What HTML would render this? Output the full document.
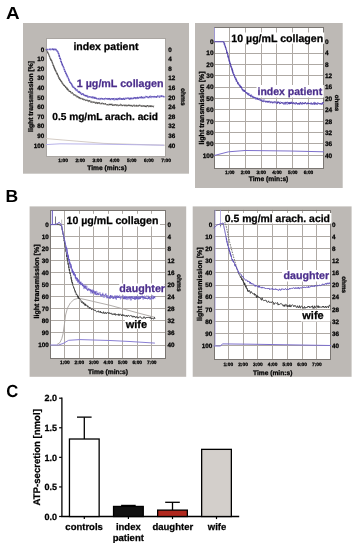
<!DOCTYPE html>
<html><head><meta charset="utf-8"><title>Figure</title>
<style>
html,body{margin:0;padding:0;background:#fff;}
body{width:357px;height:550px;overflow:hidden;}
svg{display:block;font-family:'Liberation Sans', Arial, sans-serif;text-rendering:geometricPrecision;}
</style></head><body>
<svg width="357" height="550" viewBox="0 0 357 550">
<rect x="0" y="0" width="357" height="550" fill="#fff"/>
<rect x="23" y="23" width="166" height="150.7" fill="#bdb9b5"/>
<rect x="46" y="38" width="120" height="119" fill="#fff"/>
<rect x="46.5" y="38.5" width="119" height="118" fill="none" stroke="#aaa6a2" stroke-width="1"/>
<polyline points="46,138.6 104,143.4 150,144.8 165,145.2" fill="none" stroke="#cfc6be" stroke-width="0.9" stroke-opacity="1" stroke-linejoin="round"/>
<polyline points="46,144.6 60,143.8 104,144.2 164,145.2" fill="none" stroke="#b0aae6" stroke-width="0.9" stroke-opacity="1" stroke-linejoin="round"/>
<polyline points="46,49.4 46.25,49.85 46.5,50.3 46.75,50.75 47,51.24 47.25,51.52 47.5,51.66 47.75,52.56 48,52.54 48.21,53.41 48.42,53.53 48.63,54.02 48.84,54.84 49.06,55.72 49.27,55.49 49.48,56.07 49.69,56.95 49.9,57.75 50.11,57.85 50.32,58.15 50.53,59.21 50.74,58.76 50.96,60.05 51.17,59.96 51.38,60.29 51.59,60.74 51.8,61.41 51.99,62.38 52.19,62.22 52.38,63.09 52.58,63.61 52.77,63.81 52.97,64.46 53.16,64.44 53.36,64.91 53.55,65.52 53.75,66.46 53.94,66.68 54.14,67.04 54.33,67.78 54.53,68.11 54.72,68.43 54.92,69.39 55.11,69.76 55.31,69.78 55.5,70.57 55.73,71 55.96,71.82 56.18,72.15 56.41,72.18 56.64,73.34 56.87,72.95 57.09,73.72 57.32,74.53 57.55,74.4 57.78,75.21 58.01,75.23 58.23,76.33 58.46,76.9 58.69,77.18 58.92,77.96 59.14,77.87 59.37,78.72 59.6,79.09 59.89,79.51 60.19,79.82 60.48,80.64 60.77,81.18 61.07,81.14 61.36,81.76 61.65,81.59 61.95,82.67 62.24,83.05 62.53,83.83 62.83,84.09 63.12,83.98 63.41,84.52 63.71,85.24 64,85.02 64.36,85.83 64.72,85.9 65.08,86.22 65.44,86.53 65.8,87.6 66.16,87.33 66.52,87.81 66.88,88.32 67.24,89.17 67.6,88.75 67.96,89.48 68.32,89.95 68.68,90.65 69.04,90.95 69.4,91.36 69.82,91.12 70.24,91.61 70.65,91.9 71.07,92.77 71.49,93.19 71.91,92.72 72.33,93.09 72.75,93.5 73.16,93.84 73.58,94.44 74,94.89 74.43,94.81 74.87,94.8 75.3,95.47 75.73,95.67 76.17,96.12 76.6,96.75 77.03,96.74 77.47,96.82 77.9,97.17 78.33,97.48 78.77,97.1 79.2,98.2 79.69,98.27 80.17,98.56 80.66,98.68 81.14,98.46 81.63,98.66 82.11,98.56 82.6,99.28 83.09,98.91 83.57,99.1 84.06,99.44 84.54,99.58 85.03,99.95 85.51,99.86 86,100 86.49,100.27 86.99,100.35 87.48,100.73 87.98,100.51 88.47,101.49 88.97,101.35 89.46,101 89.96,101.23 90.45,101.45 90.94,101.59 91.44,101.47 91.93,102.32 92.43,102.58 92.92,102.18 93.42,102.32 93.91,102.04 94.41,102.18 94.9,102.54 95.4,102.53 95.91,103.16 96.41,102.56 96.91,102.49 97.42,103.48 97.92,103.13 98.42,102.81 98.93,103.28 99.43,102.83 99.93,103.39 100.44,103.91 100.94,103.86 101.44,103.76 101.95,103.39 102.45,103.57 102.95,103.43 103.46,104.11 103.96,103.93 104.46,104.25 104.97,103.86 105.47,103.82 105.97,104.48 106.48,104.72 106.98,104.65 107.48,104.67 107.99,104.75 108.49,104.74 108.99,104.29 109.5,104.65 110,104.56 110.5,104.25 111,104.27 111.5,104.54 112,104.54 112.5,104.99 113,105.28 113.5,104.79 114,105.3 114.5,105.37 115,105.36 115.5,104.78 116,104.66 116.5,104.69 117,104.68 117.5,104.7 118,105.14 118.5,105.44 119,105.4 119.5,105.06 120,105.25 120.5,105.42 121,104.72 121.5,105.32 122,105.59 122.5,105.48 123,105.47 123.5,105.22 124,104.94 124.5,105.57 125,105.13 125.5,105.62 126,105.81 126.5,105.26 127,105.28 127.5,105.85 128,105.64 128.5,105.11 129,105.09 129.5,105.13 130,105.9 130.51,105.82 131.02,105.18 131.53,105.88 132.03,106.05 132.54,105.74 133.05,105.45 133.56,105.67 134.07,105.27 134.58,105.17 135.09,106.14 135.59,105.84 136.1,105.73 136.61,106.15 137.12,105.67 137.63,106.13 138.14,106.1 138.64,105.5 139.15,105.56 139.66,105.62 140.17,105.58 140.68,105.94 141.19,105.63 141.7,105.81 142.2,105.54 142.71,106.34 143.22,105.8 143.73,105.92 144.24,106.06 144.75,106.4 145.26,105.93 145.76,106.45 146.27,106.05 146.78,106.09 147.29,106.1 147.8,105.61 148.31,106.05 148.81,105.81 149.32,105.65 149.83,106.46 150.34,105.85 150.85,106.17 151.36,106.44 151.87,106.29 152.37,106.07 152.88,106.28 153.39,106.34 153.9,106.58" fill="none" stroke="#9a9794" stroke-width="1.4" stroke-opacity="1" stroke-linejoin="round"/>
<polyline points="46,49.4 46.25,49.85 46.5,50.3 46.75,50.75 47,51.74 47.25,51.67 47.5,52.22 47.75,53.07 48,53.82 48.21,53.36 48.42,54.18 48.63,54.44 48.84,54.94 49.06,55.77 49.27,55.77 49.48,56.41 49.69,56.78 49.9,58.18 50.11,58.18 50.32,59.01 50.53,59.62 50.74,58.73 50.96,59.81 51.17,61.05 51.38,61.32 51.59,60.4 51.8,60.84 51.99,61.95 52.19,61.68 52.38,62.49 52.58,62.62 52.77,64.28 52.97,64.98 53.16,65.67 53.36,64.66 53.55,66.25 53.75,66.6 53.94,66.04 54.14,67.99 54.33,68.62 54.53,67.6 54.72,69.53 54.92,68.89 55.11,69.54 55.31,71.01 55.5,71.16 55.73,70.3 55.96,71.31 56.18,71.95 56.41,72.07 56.64,72.25 56.87,72.97 57.09,74.25 57.32,73.32 57.55,74.86 57.78,75.1 58.01,74.73 58.23,75.83 58.46,76.89 58.69,77.14 58.92,76.71 59.14,79.03 59.37,79.1 59.6,79.94 59.89,78.64 60.19,79.4 60.48,79.38 60.77,81.29 61.07,80.71 61.36,80.86 61.65,81.88 61.95,83.29 62.24,83.54 62.53,82.85 62.83,83.07 63.12,85.04 63.41,84.77 63.71,85.47 64,84.68 64.36,84.98 64.72,86.61 65.08,86.45 65.44,86.11 65.8,88.21 66.16,87.97 66.52,88.67 66.88,87.6 67.24,89.51 67.6,88.3 67.96,90.26 68.32,89.81 68.68,89.94 69.04,90.74 69.4,91.85 69.82,90.88 70.24,90.95 70.65,92.09 71.07,91.86 71.49,91.95 71.91,92.4 72.33,92.52 72.75,93.17 73.16,93.73 73.58,94.06 74,95.32 74.43,94.63 74.87,95.3 75.3,94.91 75.73,95.49 76.17,95.09 76.6,95.8 77.03,95.58 77.47,97.27 77.9,97.15 78.33,96.68 78.77,97.5 79.2,98.67 79.69,97.21 80.17,98.82 80.66,98.24 81.14,98.56 81.63,99.43 82.11,98.74 82.6,99.16 83.09,99.72 83.57,100.5 84.06,99.41 84.54,100.59 85.03,100.53 85.51,100.58 86,100.31 86.49,100.32 86.99,99.85 87.48,100.13 87.98,100.13 88.47,101.59 88.97,100.74 89.46,100.68 89.96,100.65 90.45,102.28 90.94,102.46 91.44,102.19 91.93,101.53 92.43,101.57 92.92,101.8 93.42,102.25 93.91,101.77 94.41,102.47 94.9,102.23 95.4,103.69 95.91,103.78 96.41,102.99 96.91,102.46 97.42,103.96 97.92,102.72 98.42,102.88 98.93,102.24 99.43,103.06 99.93,103.32 100.44,103.44 100.94,102.9 101.44,103.58 101.95,102.64 102.45,103.23 102.95,102.95 103.46,103.63 103.96,102.98 104.46,103.01 104.97,103.64 105.47,103.57 105.97,104.34 106.48,104.29 106.98,104.8 107.48,104.68 107.99,104.87 108.49,105.26 108.99,104.35 109.5,104.29 110,105.67 110.5,104.02 111,105.19 111.5,105.05 112,103.87 112.5,105.47 113,105.6 113.5,105.09 114,105.33 114.5,105.5 115,104.18 115.5,104.97 116,104.95 116.5,105.63 117,105.59 117.5,105.65 118,105.19 118.5,105.83 119,105.43 119.5,105.47 120,104.56 120.5,104.18 121,104.41 121.5,104.88 122,104.39 122.5,105.87 123,105.34 123.5,105.5 124,105.51 124.5,105.64 125,105.28 125.5,104.33 126,105.94 126.5,105.86 127,105.39 127.5,105.47 128,105.74 128.5,104.57 129,105.93 129.5,104.98 130,104.65 130.51,105.05 131.02,105.99 131.53,104.96 132.03,106.05 132.54,106.54 133.05,105.59 133.56,105.38 134.07,105.59 134.58,106.02 135.09,106.2 135.59,105.92 136.1,105.99 136.61,104.88 137.12,105.03 137.63,105.26 138.14,106.26 138.64,105.4 139.15,105.94 139.66,104.85 140.17,104.96 140.68,105.39 141.19,106.22 141.7,106.28 142.2,106.26 142.71,105.51 143.22,105.98 143.73,105.89 144.24,105.91 144.75,105.23 145.26,106.8 145.76,105.43 146.27,107 146.78,106.93 147.29,105.11 147.8,106.01 148.31,106.75 148.81,107.07 149.32,106.05 149.83,105.7 150.34,105.6 150.85,107.09 151.36,105.64 151.87,106.39 152.37,105.53 152.88,106.31 153.39,107.19 153.9,105.57" fill="none" stroke="#444" stroke-width="0.9" stroke-opacity="1" stroke-linejoin="round" stroke-dasharray="1.6,1.2"/>
<polyline points="46,49.4 46.51,49.4 47.02,49.4 47.53,49.4 48.04,49.4 48.55,49.4 49.06,49.4 49.57,49.4 50.08,48.8 50.59,49.39 51.11,49.34 51.62,49.16 52.13,48.97 52.64,49.21 53.15,49.18 53.66,49.81 54.17,48.8 54.68,49.7 55.19,49.81 55.7,48.94 56.08,50.35 56.47,50.52 56.85,51.18 57.23,50.88 57.62,51.41 58,51.87 58.17,53.1 58.33,53.11 58.5,53.33 58.67,53.91 58.83,54.23 59,54.46 59.17,55.02 59.33,56.4 59.5,56.24 59.67,57.52 59.83,57.2 60,57.72 60.18,58.51 60.36,58.63 60.54,59.35 60.71,60.55 60.89,60.96 61.07,61.37 61.25,61.66 61.43,62.5 61.61,63.03 61.79,63.06 61.96,63.76 62.14,63.46 62.32,64.78 62.5,64.94 62.7,65.8 62.9,66.16 63.1,66.22 63.3,66.43 63.5,67.98 63.7,67.51 63.9,68.42 64.1,68.76 64.3,69.2 64.5,70.22 64.7,71 64.9,70.63 65.1,71.6 65.3,71.67 65.5,72.47 65.72,72.75 65.93,72.96 66.15,73.43 66.37,73.96 66.58,75.28 66.8,75.26 67.02,75.41 67.23,76.71 67.45,77.3 67.67,77.12 67.88,77.22 68.1,77.76 68.32,78.12 68.53,78.9 68.75,79.08 68.97,79.73 69.18,80.23 69.4,81.08 69.68,81.92 69.96,82.21 70.25,82.26 70.53,82.71 70.81,83.3 71.09,83.58 71.37,83.99 71.65,84.11 71.94,84.82 72.22,86.11 72.5,85.55 72.85,86.37 73.19,86.88 73.54,87.53 73.88,87.11 74.23,87.54 74.57,87.88 74.92,88.43 75.26,88.84 75.61,89.82 75.95,90.05 76.3,90.45 76.74,89.73 77.18,90.05 77.62,91.17 78.05,91.71 78.49,91.51 78.93,91.95 79.37,91.55 79.81,92.33 80.25,93.28 80.68,93.47 81.12,93.81 81.56,94.26 82,93.7 82.47,93.72 82.93,93.97 83.4,94.61 83.87,94.99 84.33,95.5 84.8,95.43 85.27,95.53 85.73,95.86 86.2,95.69 86.67,96 87.13,95.57 87.6,96.66 88.07,96.19 88.53,97.21 89,97.07 89.5,96.76 90,96.64 90.5,96.89 91,97.45 91.5,97.62 92,97.01 92.5,97.05 93,97.69 93.5,97.86 94,97.72 94.5,97.62 95,98.17 95.5,97.55 96,98 96.5,98.28 97,98.98 97.5,98.7 98,99.08 98.5,98.68 99,98.49 99.5,98.6 100,99.55 100.5,99.25 101,98.77 101.5,98.43 102,99 102.5,99.21 103,98.9 103.5,98.71 104,99.2 104.5,99.51 105,98.67 105.5,98.44 106,98.81 106.5,98.9 107,99.22 107.5,98.64 108,99.36 108.5,99.29 109,99.01 109.5,98.65 110,99.56 110.5,98.77 111,99.38 111.5,98.68 112,98.67 112.5,99.31 113,98.75 113.5,99.54 114,98.99 114.5,98.62 115,98.67 115.5,98.88 116,99.17 116.5,99.49 117,98.51 117.5,98.79 118,98.56 118.5,99.45 119,98.44 119.5,98.31 120,98.31 120.5,98.69 121,99.28 121.5,99.24 122,99.05 122.5,99.35 123,99.25 123.5,98.51 124,98.32 124.5,99.21 125,98.96 125.5,98.09 126,98.83 126.5,98.47 127,98.45 127.5,98.38 128,98.17 128.5,97.95 129,98.27 129.5,98.34 130,99.05 130.5,98.01 131,98.98 131.5,98.03 132,98.17 132.5,98.69 133,98.65 133.5,98.14 134,97.64 134.5,98.11 135,97.95 135.5,98.56 136,97.65 136.5,97.82 137,98.42 137.5,97.34 138,97.75 138.5,98.19 139,98.1 139.5,97.19 140,97.14 140.5,97.14 141,98.12 141.5,97.29 142,97.84 142.5,97.98 143,97.27 143.5,97.15 144,97.93 144.5,97.48 145,97.01 145.51,97.53 146.01,97.03 146.52,96.95 147.02,96.6 147.53,97.48 148.03,97.65 148.54,97.28 149.04,97.63 149.55,96.5 150.05,96.72 150.56,96.99 151.06,97.54 151.57,97.51 152.07,96.8 152.58,96.62 153.08,96.81 153.59,96.86 154.09,97.35 154.6,96.43 155.1,97.15 155.61,97.05 156.11,97.12 156.62,97.04 157.12,96.81 157.63,96.45 158.13,96.42 158.64,96.44 159.14,96.92 159.65,96.05 160.15,96.17 160.66,96.81 161.16,96.18 161.67,95.93 162.17,95.87 162.68,96.47 163.18,96.17 163.69,96.93 164.19,96.79 164.7,96.89" fill="none" stroke="#a098dc" stroke-width="1.5" stroke-opacity="1" stroke-linejoin="round"/>
<polyline points="46,49.4 46.51,49.4 47.02,49.4 47.53,49.4 48.04,49.4 48.55,49.4 49.06,49.4 49.57,49.4 50.08,49.66 50.59,49.78 51.11,49.95 51.62,50.16 52.13,49.76 52.64,48.57 53.15,50.15 53.66,48.95 54.17,49.55 54.68,49.12 55.19,49.92 55.7,48.74 56.08,49.28 56.47,49.71 56.85,49.94 57.23,51.98 57.62,51.74 58,51.62 58.17,52.27 58.33,54.08 58.5,53.52 58.67,53.41 58.83,55.18 59,55.34 59.17,56.58 59.33,55.13 59.5,56.44 59.67,57.7 59.83,58.25 60,58.91 60.18,57.49 60.36,58.55 60.54,58.66 60.71,59.32 60.89,61.54 61.07,61.18 61.25,62.45 61.43,61.72 61.61,63.31 61.79,62.89 61.96,62.97 62.14,64.61 62.32,65.48 62.5,64.13 62.7,65.7 62.9,66.25 63.1,65.86 63.3,66.68 63.5,66.68 63.7,67.31 63.9,67.91 64.1,69.17 64.3,69.77 64.5,69.28 64.7,69.35 64.9,70.54 65.1,71.81 65.3,71.21 65.5,71.99 65.72,72.23 65.93,74.01 66.15,73.94 66.37,73.35 66.58,73.91 66.8,75.04 67.02,75.85 67.23,76.53 67.45,75.8 67.67,76.44 67.88,78.09 68.1,77.93 68.32,78.13 68.53,78.67 68.75,80.56 68.97,79.63 69.18,80.67 69.4,80.69 69.68,81.27 69.96,82.71 70.25,83.46 70.53,82.52 70.81,82.61 71.09,84.23 71.37,83.53 71.65,83.55 71.94,85.97 72.22,85.38 72.5,86.7 72.85,86.16 73.19,87.57 73.54,87 73.88,86.71 74.23,86.75 74.57,88.3 74.92,88.85 75.26,89.81 75.61,88.37 75.95,89.91 76.3,89.72 76.74,90.32 77.18,89.84 77.62,90.45 78.05,91.28 78.49,92.47 78.93,90.99 79.37,92.13 79.81,93.13 80.25,93.8 80.68,92.41 81.12,92.56 81.56,94.67 82,95.05 82.47,94.16 82.93,93.4 83.4,95.52 83.87,94.53 84.33,95.86 84.8,95.42 85.27,96.07 85.73,94.8 86.2,96.37 86.67,95.32 87.13,95.92 87.6,97.08 88.07,97.24 88.53,96.01 89,96.28 89.5,96.77 90,97.13 90.5,96.93 91,96.45 91.5,96.82 92,97.97 92.5,98.44 93,96.65 93.5,97.9 94,98.42 94.5,96.93 95,98.79 95.5,97.3 96,98.46 96.5,98.44 97,98.71 97.5,98.1 98,98.44 98.5,98.9 99,98.65 99.5,99.25 100,98.88 100.5,98.86 101,97.95 101.5,99.26 102,98.98 102.5,98.42 103,99.58 103.5,99.62 104,98.91 104.5,98.3 105,98.94 105.5,98.14 106,98.18 106.5,98.85 107,98.1 107.5,98.87 108,99.02 108.5,97.99 109,99.3 109.5,98.08 110,99.51 110.5,99.61 111,99.03 111.5,98.02 112,99.01 112.5,98.73 113,99.99 113.5,98.2 114,99.79 114.5,100.09 115,99.51 115.5,99.68 116,98.29 116.5,100.01 117,98.92 117.5,99.92 118,99.82 118.5,98.15 119,99.5 119.5,99.8 120,97.88 120.5,98.49 121,99.36 121.5,98.03 122,99.64 122.5,98.25 123,99.43 123.5,97.93 124,98.7 124.5,99.61 125,98.02 125.5,98.13 126,98.65 126.5,98.22 127,97.58 127.5,97.88 128,97.82 128.5,99.51 129,98.93 129.5,99.39 130,97.77 130.5,99.09 131,97.57 131.5,98.45 132,98.64 132.5,97.99 133,99.08 133.5,98.34 134,98.36 134.5,98.98 135,97.23 135.5,99.14 136,98.31 136.5,97.75 137,98.59 137.5,97.38 138,98.94 138.5,97.99 139,97.47 139.5,98.32 140,97.57 140.5,96.95 141,98.16 141.5,96.59 142,98.24 142.5,96.96 143,97.77 143.5,98.48 144,97.57 144.5,97.7 145,96.89 145.51,96.18 146.01,96.22 146.52,96.45 147.02,97.45 147.53,97.02 148.03,97.17 148.54,97.99 149.04,96.29 149.55,96.47 150.05,97.38 150.56,95.97 151.06,95.9 151.57,96.65 152.07,96.08 152.58,96.6 153.08,96.28 153.59,97.05 154.09,97.03 154.6,96.16 155.1,97.06 155.61,96.71 156.11,95.93 156.62,97.67 157.12,96.12 157.63,95.89 158.13,95.74 158.64,96.91 159.14,97.4 159.65,97.18 160.15,96.32 160.66,95.99 161.16,95.4 161.67,96.77 162.17,96.57 162.68,96.07 163.18,96.7 163.69,96.23 164.19,97.29 164.7,96.81" fill="none" stroke="#5747ad" stroke-width="1.0" stroke-opacity="1" stroke-linejoin="round" stroke-dasharray="1.8,1.2"/>
<text x="73.4" y="49.5" font-size="10.55" text-anchor="start" fill="#000" font-weight="bold" stroke="#000" stroke-width="0.25" >index patient</text>
<text x="76.8" y="86.6" font-size="10.7" text-anchor="start" fill="#4b2e8c" font-weight="bold" stroke="#4b2e8c" stroke-width="0.25" >1 µg/mL collagen</text>
<text x="52.3" y="120.2" font-size="10.15" text-anchor="start" fill="#000" font-weight="bold" stroke="#000" stroke-width="0.25" >0.5 mg/mL arach. acid</text>
<text x="44.3" y="51.67" font-size="6.3" text-anchor="end" fill="#000" font-weight="bold" stroke="#000" stroke-width="0.25" >0</text>
<text x="44.3" y="61.27" font-size="6.3" text-anchor="end" fill="#000" font-weight="bold" stroke="#000" stroke-width="0.25" >10</text>
<text x="44.3" y="70.87" font-size="6.3" text-anchor="end" fill="#000" font-weight="bold" stroke="#000" stroke-width="0.25" >20</text>
<text x="44.3" y="80.47" font-size="6.3" text-anchor="end" fill="#000" font-weight="bold" stroke="#000" stroke-width="0.25" >30</text>
<text x="44.3" y="90.07" font-size="6.3" text-anchor="end" fill="#000" font-weight="bold" stroke="#000" stroke-width="0.25" >40</text>
<text x="44.3" y="99.67" font-size="6.3" text-anchor="end" fill="#000" font-weight="bold" stroke="#000" stroke-width="0.25" >50</text>
<text x="44.3" y="109.27" font-size="6.3" text-anchor="end" fill="#000" font-weight="bold" stroke="#000" stroke-width="0.25" >60</text>
<text x="44.3" y="118.87" font-size="6.3" text-anchor="end" fill="#000" font-weight="bold" stroke="#000" stroke-width="0.25" >70</text>
<text x="44.3" y="128.47" font-size="6.3" text-anchor="end" fill="#000" font-weight="bold" stroke="#000" stroke-width="0.25" >80</text>
<text x="44.3" y="138.07" font-size="6.3" text-anchor="end" fill="#000" font-weight="bold" stroke="#000" stroke-width="0.25" >90</text>
<text x="44.3" y="147.67" font-size="6.3" text-anchor="end" fill="#000" font-weight="bold" stroke="#000" stroke-width="0.25" >100</text>
<text x="168.2" y="51.67" font-size="6.3" text-anchor="start" fill="#000" font-weight="bold" stroke="#000" stroke-width="0.25" >0</text>
<text x="168.2" y="61.27" font-size="6.3" text-anchor="start" fill="#000" font-weight="bold" stroke="#000" stroke-width="0.25" >4</text>
<text x="168.2" y="70.87" font-size="6.3" text-anchor="start" fill="#000" font-weight="bold" stroke="#000" stroke-width="0.25" >8</text>
<text x="168.2" y="80.47" font-size="6.3" text-anchor="start" fill="#000" font-weight="bold" stroke="#000" stroke-width="0.25" >12</text>
<text x="168.2" y="90.07" font-size="6.3" text-anchor="start" fill="#000" font-weight="bold" stroke="#000" stroke-width="0.25" >16</text>
<text x="168.2" y="99.67" font-size="6.3" text-anchor="start" fill="#000" font-weight="bold" stroke="#000" stroke-width="0.25" >20</text>
<text x="168.2" y="109.27" font-size="6.3" text-anchor="start" fill="#000" font-weight="bold" stroke="#000" stroke-width="0.25" >24</text>
<text x="168.2" y="118.87" font-size="6.3" text-anchor="start" fill="#000" font-weight="bold" stroke="#000" stroke-width="0.25" >28</text>
<text x="168.2" y="128.47" font-size="6.3" text-anchor="start" fill="#000" font-weight="bold" stroke="#000" stroke-width="0.25" >32</text>
<text x="168.2" y="138.07" font-size="6.3" text-anchor="start" fill="#000" font-weight="bold" stroke="#000" stroke-width="0.25" >36</text>
<text x="168.2" y="147.67" font-size="6.3" text-anchor="start" fill="#000" font-weight="bold" stroke="#000" stroke-width="0.25" >40</text>
<text x="63.07" y="162.03" font-size="4.8" text-anchor="middle" fill="#000" font-weight="bold" stroke="#000" stroke-width="0.25" >1:00</text>
<text x="80.24" y="162.03" font-size="4.8" text-anchor="middle" fill="#000" font-weight="bold" stroke="#000" stroke-width="0.25" >2:00</text>
<text x="97.41" y="162.03" font-size="4.8" text-anchor="middle" fill="#000" font-weight="bold" stroke="#000" stroke-width="0.25" >3:00</text>
<text x="114.58" y="162.03" font-size="4.8" text-anchor="middle" fill="#000" font-weight="bold" stroke="#000" stroke-width="0.25" >4:00</text>
<text x="131.75" y="162.03" font-size="4.8" text-anchor="middle" fill="#000" font-weight="bold" stroke="#000" stroke-width="0.25" >5:00</text>
<text x="148.92" y="162.03" font-size="4.8" text-anchor="middle" fill="#000" font-weight="bold" stroke="#000" stroke-width="0.25" >6:00</text>
<text x="166.09" y="162.03" font-size="4.8" text-anchor="middle" fill="#000" font-weight="bold" stroke="#000" stroke-width="0.25" >7:00</text>
<text x="87.3" y="169.9" font-size="6.67" text-anchor="start" fill="#000" font-weight="bold" stroke="#000" stroke-width="0.25" >Time (min:s)</text>
<text x="0" y="0" font-size="6.8" text-anchor="middle" dominant-baseline="central" fill="#000" font-weight="bold" stroke="#000" stroke-width="0.25" transform="translate(31,96.4) rotate(-90)">light transmission [%]</text>
<text x="0" y="0" font-size="6.6" text-anchor="middle" dominant-baseline="central" fill="#000" font-weight="bold" stroke="#000" stroke-width="0.25" transform="translate(182.3,96.8) rotate(90)">ohms</text>
<rect x="195" y="23" width="147.7" height="165" fill="#bdb9b5"/>
<rect x="214" y="27" width="110" height="142" fill="#fff"/>
<line x1="229.5" y1="27.4" x2="229.5" y2="169" stroke="#aea9a4" stroke-width="1.0"/>
<line x1="245.5" y1="27.4" x2="245.5" y2="169" stroke="#aea9a4" stroke-width="1.0"/>
<line x1="261.5" y1="27.4" x2="261.5" y2="169" stroke="#aea9a4" stroke-width="1.0"/>
<line x1="276.5" y1="27.4" x2="276.5" y2="169" stroke="#aea9a4" stroke-width="1.0"/>
<line x1="292.5" y1="27.4" x2="292.5" y2="169" stroke="#aea9a4" stroke-width="1.0"/>
<line x1="308.5" y1="27.4" x2="308.5" y2="169" stroke="#aea9a4" stroke-width="1.0"/>
<line x1="213.9" y1="41.5" x2="324.2" y2="41.5" stroke="#aea9a4" stroke-width="1.0"/>
<line x1="213.9" y1="53.5" x2="324.2" y2="53.5" stroke="#aea9a4" stroke-width="1.0"/>
<line x1="213.9" y1="64.5" x2="324.2" y2="64.5" stroke="#aea9a4" stroke-width="1.0"/>
<line x1="213.9" y1="75.5" x2="324.2" y2="75.5" stroke="#aea9a4" stroke-width="1.0"/>
<line x1="213.9" y1="87.5" x2="324.2" y2="87.5" stroke="#aea9a4" stroke-width="1.0"/>
<line x1="213.9" y1="98.5" x2="324.2" y2="98.5" stroke="#aea9a4" stroke-width="1.0"/>
<line x1="213.9" y1="109.5" x2="324.2" y2="109.5" stroke="#aea9a4" stroke-width="1.0"/>
<line x1="213.9" y1="121.5" x2="324.2" y2="121.5" stroke="#aea9a4" stroke-width="1.0"/>
<line x1="213.9" y1="132.5" x2="324.2" y2="132.5" stroke="#aea9a4" stroke-width="1.0"/>
<line x1="213.9" y1="143.5" x2="324.2" y2="143.5" stroke="#aea9a4" stroke-width="1.0"/>
<line x1="213.9" y1="155.5" x2="324.2" y2="155.5" stroke="#aea9a4" stroke-width="1.0"/>
<rect x="214.5" y="27.5" width="109" height="141" fill="none" stroke="#7a7672" stroke-width="1"/>
<rect x="230.5" y="32.5" width="93.7" height="11.2" fill="#fff"/>
<rect x="256.5" y="85.0" width="67.3" height="12.5" fill="#fff"/>
<polyline points="214.5,27.6 214.5,41.7" fill="none" stroke="#a49cdc" stroke-width="0.9" stroke-opacity="1" stroke-linejoin="round"/>
<polyline points="214.3,155.5 220,154 228.5,151.8 245,150.5 290,151 324,151.8" fill="none" stroke="#7d70cc" stroke-width="1" stroke-opacity="1" stroke-linejoin="round"/>
<polyline points="214.5,41.7 215.02,41.7 215.55,41.7 216.07,41.7 216.59,41.7 217.12,41.7 217.64,41.7 218.16,41.7 218.69,41.7 219.21,41.7 219.74,41.7 220.26,41.7 220.78,41.7 221.31,41.7 221.83,41.7 222.35,41.7 222.88,41.7 223.4,41.7 223.6,42.18 223.8,42.65 224,41.68 224.2,44.85 224.4,44.98 224.6,45.24 224.8,43.45 225,46.6 225.15,46.8 225.31,46.43 225.46,47.83 225.62,47.42 225.77,47.21 225.93,47.35 226.08,48.27 226.24,48.17 226.39,49.64 226.55,51.48 226.7,51.82 226.84,52.8 226.97,52.86 227.11,51.93 227.24,53.34 227.38,53.46 227.52,55.08 227.65,54.72 227.79,54.38 227.92,56.08 228.06,57.61 228.2,55.71 228.33,58.32 228.47,56.04 228.6,57.32 228.74,57.74 228.88,59.85 229.01,60.99 229.15,60.84 229.28,59.99 229.42,62.26 229.56,60.98 229.69,61.19 229.83,63.82 229.96,63.43 230.1,64.12 230.26,64.51 230.41,65.99 230.57,64.85 230.73,66.51 230.89,66.54 231.04,67.53 231.2,66.67 231.36,68.07 231.51,68.05 231.67,67.69 231.83,67.87 231.99,69.66 232.14,68.4 232.3,71.55 232.46,69.58 232.61,69.68 232.77,70.42 232.93,73.53 233.09,72.14 233.24,71.97 233.4,72.09 233.6,72.6 233.8,75.15 234,75.42 234.2,76.09 234.4,76.68 234.6,75 234.8,77.14 235,76.88 235.2,78.8 235.4,79.27 235.6,79.96 235.8,77.79 236,80.82 236.2,81.43 236.4,81.99 236.6,79.78 236.8,80.56 237.09,80.67 237.39,80.83 237.68,83.84 237.98,84.14 238.27,83.98 238.57,85 238.86,84.79 239.16,84.1 239.45,83.91 239.75,84.32 240.04,86.84 240.34,85.48 240.63,86.26 240.93,87 241.22,86.12 241.52,87.29 241.81,87.78 242.11,89.58 242.4,88.88 242.79,89.06 243.19,91.44 243.58,90.3 243.98,91.74 244.37,91.33 244.76,89.78 245.16,91.33 245.55,91.73 245.95,93.14 246.34,92.1 246.74,93.58 247.13,93.37 247.52,92.68 247.92,95.07 248.31,92.93 248.71,95.59 249.1,93.85 249.55,93.53 250.01,94.4 250.46,96.42 250.91,97.34 251.37,94.45 251.82,96.23 252.27,96.46 252.73,97.66 253.18,95.93 253.63,97.15 254.09,96.9 254.54,98.68 254.99,97.08 255.45,99.49 255.9,97.61 256.37,97.56 256.84,99.29 257.31,98.83 257.78,97.76 258.25,99.62 258.72,98.02 259.18,100.46 259.65,100.35 260.12,100.81 260.59,100.48 261.06,99.78 261.53,100.11 262,100.26 262.52,101.95 263.05,99.48 263.57,102.14 264.1,99.48 264.62,100.16 265.15,100.44 265.68,102.58 266.2,101.4 266.73,101.11 267.25,102.83 267.78,100.85 268.3,101.67 268.82,101.95 269.33,102.71 269.85,102.76 270.36,102.47 270.88,101.57 271.39,101.55 271.91,101.05 272.42,103.3 272.94,102.77 273.45,103.07 273.97,101.29 274.48,102.2 275,103.32 275.52,102.75 276.03,101.35 276.55,102.48 277.06,103.88 277.58,101.86 278.09,101.76 278.61,102.16 279.12,103.5 279.64,104 280.15,101.84 280.67,101.9 281.18,102.24 281.7,102.55 282.21,103.18 282.72,102.03 283.22,102.57 283.73,102.14 284.24,104.66 284.75,103.88 285.26,101.88 285.77,104.65 286.27,101.9 286.78,102.81 287.29,104.74 287.8,104.14 288.31,103.95 288.82,103.01 289.32,102.25 289.83,103.67 290.34,101.98 290.85,102.31 291.36,102.9 291.87,101.78 292.38,102.95 292.88,104.21 293.39,103.91 293.9,103.3 294.41,103.73 294.92,103.2 295.43,102.18 295.93,103.67 296.44,103.04 296.95,104.12 297.46,104.66 297.97,103.14 298.48,103.61 298.98,104.18 299.49,103.14 300,102.53 300.5,104.11 301,104.62 301.5,104.28 302,104.04 302.5,104.53 303,103.97 303.5,103.85 304,103.25 304.5,102.8 305,103.81 305.5,102.11 306,103.14 306.5,104.3 307,104.08 307.5,103.81 308,102.6 308.5,103.16 309,103.26 309.5,103.79 310,103.11 310.5,103.96 311,104.78 311.5,102.39 312,103.89 312.5,104.29 313,103.04 313.5,103.37 314,104.92 314.5,101.92 315,103.54 315.5,102.31 316,104.3 316.5,104.81 317,103.46 317.5,102.12 318,103.64 318.5,103.53 319,104.1 319.5,103.44 320,103.85 320.5,104.45 321,103.47 321.5,103.11 322,104.83 322.5,102.47 323,103.99 323.5,103.06" fill="none" stroke="#9a90d8" stroke-width="0.9" stroke-opacity="1" stroke-linejoin="round"/>
<polyline points="214.5,41.7 215.02,41.7 215.55,41.7 216.07,41.7 216.59,41.7 217.12,41.7 217.64,41.7 218.16,41.7 218.69,41.7 219.21,41.7 219.74,41.7 220.26,41.7 220.78,41.7 221.31,41.7 221.83,41.7 222.35,41.7 222.88,41.7 223.4,41.7 223.6,42.18 223.8,42.65 224,42.55 224.2,42.86 224.4,44.63 224.6,45.17 224.8,45.29 225,45.44 225.15,46.14 225.31,45.99 225.46,47.98 225.62,47.28 225.77,48.37 225.93,49.25 226.08,49.76 226.24,49.58 226.39,49.75 226.55,50.78 226.7,50.45 226.84,52.36 226.97,51.89 227.11,53.38 227.24,52.7 227.38,53.41 227.52,53.66 227.65,54.5 227.79,54.51 227.92,54.63 228.06,56.56 228.2,56.17 228.33,56.59 228.47,57.2 228.6,58.05 228.74,58.44 228.88,59.35 229.01,59.88 229.15,59.78 229.28,61.41 229.42,61.75 229.56,60.65 229.69,62.68 229.83,63.33 229.96,63.58 230.1,62.78 230.26,64.64 230.41,64.73 230.57,63.97 230.73,64.45 230.89,66.81 231.04,66.7 231.2,66.37 231.36,66.55 231.51,67.11 231.67,67.78 231.83,69.34 231.99,68.96 232.14,69.06 232.3,71.04 232.46,71.3 232.61,70.53 232.77,72.46 232.93,72.37 233.09,73.2 233.24,73.46 233.4,74.39 233.6,74.64 233.8,75.21 234,74.39 234.2,75.84 234.4,75.99 234.6,76.87 234.8,76.73 235,78.08 235.2,77.89 235.4,77.78 235.6,78.18 235.8,78.46 236,79.63 236.2,79.22 236.4,80.5 236.6,80.32 236.8,81.48 237.09,81.91 237.39,82.4 237.68,83.46 237.98,82.16 238.27,84.23 238.57,83.9 238.86,84.5 239.16,85.11 239.45,85.88 239.75,85.36 240.04,85.85 240.34,87.35 240.63,85.99 240.93,87.52 241.22,87.93 241.52,87.13 241.81,88.7 242.11,89.25 242.4,90.16 242.79,89.29 243.19,90.92 243.58,90.31 243.98,90.59 244.37,91.74 244.76,90.34 245.16,92.04 245.55,92.19 245.95,91.94 246.34,93.32 246.74,92.66 247.13,93.2 247.52,93.63 247.92,94.45 248.31,93.66 248.71,94.44 249.1,94.74 249.55,95.23 250.01,96.01 250.46,95.17 250.91,96.46 251.37,95.84 251.82,96.27 252.27,96.03 252.73,96.73 253.18,97.89 253.63,97.48 254.09,97.98 254.54,97.28 254.99,97.48 255.45,97.67 255.9,98.47 256.37,98.75 256.84,99.22 257.31,97.91 257.78,99.45 258.25,99.96 258.72,99.45 259.18,98.64 259.65,99.32 260.12,98.9 260.59,99.45 261.06,101.09 261.53,100.64 262,100.92 262.52,101.28 263.05,101.62 263.57,101.12 264.1,101.23 264.62,101.35 265.15,101.59 265.68,101.49 266.2,101.76 266.73,100.93 267.25,101.93 267.78,101.62 268.3,102.33 268.82,101.05 269.33,101.26 269.85,101.02 270.36,102.55 270.88,102.88 271.39,102.41 271.91,101.89 272.42,102.85 272.94,102.82 273.45,102.42 273.97,101.87 274.48,102 275,102.29 275.52,102.14 276.03,102.41 276.55,102.88 277.06,103.52 277.58,101.81 278.09,102.89 278.61,101.88 279.12,102.09 279.64,103.52 280.15,103.1 280.67,103.84 281.18,102.94 281.7,102.13 282.21,102.88 282.72,103.3 283.22,104 283.73,104.09 284.24,103.09 284.75,102.97 285.26,102.36 285.77,103.46 286.27,102.6 286.78,102.49 287.29,102.22 287.8,102.21 288.31,103.58 288.82,102.46 289.32,104.16 289.83,102.41 290.34,103.98 290.85,102.51 291.36,102.29 291.87,103.71 292.38,102.76 292.88,103.75 293.39,102.67 293.9,102.4 294.41,103.86 294.92,103.74 295.43,104.04 295.93,103.79 296.44,102.51 296.95,103.61 297.46,103.78 297.97,103.29 298.48,104.24 298.98,102.89 299.49,104.32 300,103.83 300.5,102.42 301,102.43 301.5,103.7 302,104.03 302.5,102.56 303,103.02 303.5,103.86 304,102.73 304.5,104.12 305,103.37 305.5,102.52 306,103.14 306.5,103.55 307,103.28 307.5,103.75 308,102.69 308.5,103.99 309,103.13 309.5,103.69 310,103.66 310.5,103.24 311,103.17 311.5,103.97 312,104.29 312.5,103.97 313,103.53 313.5,102.98 314,102.52 314.5,104.35 315,103.81 315.5,104.05 316,103.06 316.5,103.61 317,104.35 317.5,104.06 318,103.6 318.5,103.02 319,103.26 319.5,104.18 320,103.15 320.5,103.77 321,103.6 321.5,104.19 322,104.01 322.5,102.97 323,102.4 323.5,102.93" fill="none" stroke="#4f3ea6" stroke-width="1.0" stroke-opacity="1" stroke-linejoin="round"/>
<text x="231.3" y="41.6" font-size="10.6" text-anchor="start" fill="#000" font-weight="bold" stroke="#000" stroke-width="0.25" >10 µg/mL collagen</text>
<text x="257.5" y="95.4" font-size="10.5" text-anchor="start" fill="#4b2e8c" font-weight="bold" stroke="#4b2e8c" stroke-width="0.25" >index patient</text>
<text x="213.6" y="44.04" font-size="6.5" text-anchor="end" fill="#000" font-weight="bold" stroke="#000" stroke-width="0.25" >0</text>
<text x="213.6" y="55.4" font-size="6.5" text-anchor="end" fill="#000" font-weight="bold" stroke="#000" stroke-width="0.25" >10</text>
<text x="213.6" y="66.76" font-size="6.5" text-anchor="end" fill="#000" font-weight="bold" stroke="#000" stroke-width="0.25" >20</text>
<text x="213.6" y="78.12" font-size="6.5" text-anchor="end" fill="#000" font-weight="bold" stroke="#000" stroke-width="0.25" >30</text>
<text x="213.6" y="89.48" font-size="6.5" text-anchor="end" fill="#000" font-weight="bold" stroke="#000" stroke-width="0.25" >40</text>
<text x="213.6" y="100.84" font-size="6.5" text-anchor="end" fill="#000" font-weight="bold" stroke="#000" stroke-width="0.25" >50</text>
<text x="213.6" y="112.2" font-size="6.5" text-anchor="end" fill="#000" font-weight="bold" stroke="#000" stroke-width="0.25" >60</text>
<text x="213.6" y="123.56" font-size="6.5" text-anchor="end" fill="#000" font-weight="bold" stroke="#000" stroke-width="0.25" >70</text>
<text x="213.6" y="134.92" font-size="6.5" text-anchor="end" fill="#000" font-weight="bold" stroke="#000" stroke-width="0.25" >80</text>
<text x="213.6" y="146.28" font-size="6.5" text-anchor="end" fill="#000" font-weight="bold" stroke="#000" stroke-width="0.25" >90</text>
<text x="213.6" y="157.64" font-size="6.5" text-anchor="end" fill="#000" font-weight="bold" stroke="#000" stroke-width="0.25" >100</text>
<text x="325" y="44.04" font-size="6.5" text-anchor="start" fill="#000" font-weight="bold" stroke="#000" stroke-width="0.25" >0</text>
<text x="325" y="55.4" font-size="6.5" text-anchor="start" fill="#000" font-weight="bold" stroke="#000" stroke-width="0.25" >4</text>
<text x="325" y="66.76" font-size="6.5" text-anchor="start" fill="#000" font-weight="bold" stroke="#000" stroke-width="0.25" >8</text>
<text x="325" y="78.12" font-size="6.5" text-anchor="start" fill="#000" font-weight="bold" stroke="#000" stroke-width="0.25" >12</text>
<text x="325" y="89.48" font-size="6.5" text-anchor="start" fill="#000" font-weight="bold" stroke="#000" stroke-width="0.25" >16</text>
<text x="325" y="100.84" font-size="6.5" text-anchor="start" fill="#000" font-weight="bold" stroke="#000" stroke-width="0.25" >20</text>
<text x="325" y="112.2" font-size="6.5" text-anchor="start" fill="#000" font-weight="bold" stroke="#000" stroke-width="0.25" >24</text>
<text x="325" y="123.56" font-size="6.5" text-anchor="start" fill="#000" font-weight="bold" stroke="#000" stroke-width="0.25" >28</text>
<text x="325" y="134.92" font-size="6.5" text-anchor="start" fill="#000" font-weight="bold" stroke="#000" stroke-width="0.25" >32</text>
<text x="325" y="146.28" font-size="6.5" text-anchor="start" fill="#000" font-weight="bold" stroke="#000" stroke-width="0.25" >36</text>
<text x="325" y="157.64" font-size="6.5" text-anchor="start" fill="#000" font-weight="bold" stroke="#000" stroke-width="0.25" >40</text>
<text x="229.74" y="174.33" font-size="4.8" text-anchor="middle" fill="#000" font-weight="bold" stroke="#000" stroke-width="0.25" >1:00</text>
<text x="245.48" y="174.33" font-size="4.8" text-anchor="middle" fill="#000" font-weight="bold" stroke="#000" stroke-width="0.25" >2:00</text>
<text x="261.22" y="174.33" font-size="4.8" text-anchor="middle" fill="#000" font-weight="bold" stroke="#000" stroke-width="0.25" >3:00</text>
<text x="276.96" y="174.33" font-size="4.8" text-anchor="middle" fill="#000" font-weight="bold" stroke="#000" stroke-width="0.25" >4:00</text>
<text x="292.7" y="174.33" font-size="4.8" text-anchor="middle" fill="#000" font-weight="bold" stroke="#000" stroke-width="0.25" >5:00</text>
<text x="308.44" y="174.33" font-size="4.8" text-anchor="middle" fill="#000" font-weight="bold" stroke="#000" stroke-width="0.25" >6:00</text>
<text x="248.8" y="181.3" font-size="6.68" text-anchor="start" fill="#000" font-weight="bold" stroke="#000" stroke-width="0.25" >Time (min:s)</text>
<text x="0" y="0" font-size="7" text-anchor="middle" dominant-baseline="central" fill="#000" font-weight="bold" stroke="#000" stroke-width="0.25" transform="translate(202.6,108) rotate(-90)">light transmission [%]</text>
<text x="0" y="0" font-size="6.2" text-anchor="middle" dominant-baseline="central" fill="#000" font-weight="bold" stroke="#000" stroke-width="0.25" transform="translate(336.2,103) rotate(90)">ohms</text>
<rect x="29.6" y="206.4" width="156.6" height="170.4" fill="#bdb9b5"/>
<rect x="50" y="210" width="116" height="149" fill="#fff"/>
<line x1="64.5" y1="210.3" x2="64.5" y2="358.6" stroke="#aea9a4" stroke-width="1.0"/>
<line x1="79.5" y1="210.3" x2="79.5" y2="358.6" stroke="#aea9a4" stroke-width="1.0"/>
<line x1="93.5" y1="210.3" x2="93.5" y2="358.6" stroke="#aea9a4" stroke-width="1.0"/>
<line x1="108.5" y1="210.3" x2="108.5" y2="358.6" stroke="#aea9a4" stroke-width="1.0"/>
<line x1="122.5" y1="210.3" x2="122.5" y2="358.6" stroke="#aea9a4" stroke-width="1.0"/>
<line x1="137.5" y1="210.3" x2="137.5" y2="358.6" stroke="#aea9a4" stroke-width="1.0"/>
<line x1="151.5" y1="210.3" x2="151.5" y2="358.6" stroke="#aea9a4" stroke-width="1.0"/>
<line x1="50.1" y1="224.5" x2="166.3" y2="224.5" stroke="#aea9a4" stroke-width="1.0"/>
<line x1="50.1" y1="236.5" x2="166.3" y2="236.5" stroke="#aea9a4" stroke-width="1.0"/>
<line x1="50.1" y1="248.5" x2="166.3" y2="248.5" stroke="#aea9a4" stroke-width="1.0"/>
<line x1="50.1" y1="260.5" x2="166.3" y2="260.5" stroke="#aea9a4" stroke-width="1.0"/>
<line x1="50.1" y1="272.5" x2="166.3" y2="272.5" stroke="#aea9a4" stroke-width="1.0"/>
<line x1="50.1" y1="284.5" x2="166.3" y2="284.5" stroke="#aea9a4" stroke-width="1.0"/>
<line x1="50.1" y1="296.5" x2="166.3" y2="296.5" stroke="#aea9a4" stroke-width="1.0"/>
<line x1="50.1" y1="308.5" x2="166.3" y2="308.5" stroke="#aea9a4" stroke-width="1.0"/>
<line x1="50.1" y1="320.5" x2="166.3" y2="320.5" stroke="#aea9a4" stroke-width="1.0"/>
<line x1="50.1" y1="332.5" x2="166.3" y2="332.5" stroke="#aea9a4" stroke-width="1.0"/>
<line x1="50.1" y1="345.5" x2="166.3" y2="345.5" stroke="#aea9a4" stroke-width="1.0"/>
<rect x="50.5" y="210.5" width="115" height="148" fill="none" stroke="#7a7672" stroke-width="1"/>
<rect x="65" y="213.8" width="95" height="12.7" fill="#fff"/>
<rect x="119.3" y="283.5" width="45.3" height="11" fill="#fff"/>
<rect x="125" y="319" width="25" height="10" fill="#fff"/>
<polyline points="50.2,345 58.6,345 63,343.5 68.7,340.3 80,339.6 110,340.5 130,341.5 154.9,343.1" fill="none" stroke="#8a80d4" stroke-width="1" stroke-opacity="1" stroke-linejoin="round"/>
<polyline points="57,344.5 60,342.5 61.8,338.5 63,334 64.3,325 65.6,315 67.5,308 70.3,303 74,299.5 78.6,298.2 85,299.5 100,303 110,305.3 125,309.4 140,313.5 155,317.4" fill="none" stroke="#a8a4a0" stroke-width="0.9" stroke-opacity="1" stroke-linejoin="round"/>
<polyline points="61.7,224.6 61.7,219.6" fill="none" stroke="#a8a4a0" stroke-width="0.8" stroke-opacity="1" stroke-linejoin="round"/>
<polyline points="55.5,224.4 55.5,216.5" fill="none" stroke="#555" stroke-width="0.8" stroke-opacity="1" stroke-linejoin="round"/>
<polyline points="50.2,224.6 50.72,224.6 51.24,224.6 51.75,224.6 52.27,224.6 52.79,224.6 53.31,224.6 53.82,224.6 54.34,224.6 54.86,224.6 55.38,224.6 55.89,224.6 56.41,224.6 56.93,224.6 57.45,224.6 57.96,224.6 58.48,224.6 59,224.6 59.5,224.88 60,225.16 60.5,225.44 61,225.72 61.5,226 61.6,226.5 61.7,227 61.8,227.5 61.9,228 62,229 62.1,229.58 62.2,229.42 62.3,229.18 62.4,231.11 62.5,231.54 62.6,230.97 62.7,232.16 62.8,233.29 62.9,233.77 63,233.54 63.1,233.95 63.2,234.68 63.3,234.38 63.38,234.88 63.47,235.36 63.55,236.9 63.63,236.73 63.72,237.63 63.8,237.8 63.88,238.53 63.97,238.3 64.05,238.59 64.13,240.99 64.22,240.25 64.3,240.21 64.38,241.77 64.47,242.57 64.55,241.81 64.63,243.19 64.72,243.19 64.8,244.04 64.88,243.54 64.97,244.07 65.05,246.48 65.13,246.73 65.22,246.47 65.3,247.13 65.38,247.02 65.47,248.56 65.55,248.35 65.63,249.89 65.72,250.03 65.8,250.64 65.88,251.43 65.97,250.51 66.05,250.58 66.13,251.4 66.22,251.86 66.3,252.17 66.38,252.6 66.47,254.11 66.55,255.24 66.63,254.92 66.72,256.39 66.8,256.82 66.88,255.63 66.97,257.2 67.05,257.29 67.13,257.24 67.22,259.42 67.3,258.51 67.38,259.63 67.47,260.28 67.55,261.41 67.63,261.34 67.72,261.29 67.8,261.9 67.9,261.82 68,263.93 68.1,264.48 68.2,263.44 68.3,263.58 68.4,264.51 68.5,265.2 68.6,266.81 68.7,267.31 68.8,267.67 68.9,266.59 69,268.57 69.1,268.92 69.2,269.29 69.3,270.47 69.4,269.11 69.5,269.79 69.61,271.51 69.71,272.38 69.82,272.35 69.92,272.1 70.03,273.18 70.13,274.02 70.24,273.21 70.34,274.15 70.45,274.51 70.55,274.75 70.66,275.96 70.76,275.84 70.87,276.48 70.97,276.79 71.08,278.36 71.18,277.53 71.29,279.43 71.39,278.89 71.5,279.07 71.64,281.36 71.79,280.44 71.93,282.37 72.08,282.73 72.22,283.28 72.36,282.28 72.51,283.39 72.65,283.19 72.79,285.36 72.94,285.68 73.08,285.76 73.22,285.9 73.37,286.18 73.51,287.65 73.66,287.46 73.8,288.26 74,287.79 74.2,288.44 74.4,288.61 74.6,290.43 74.8,290.61 75,290.29 75.2,292.24 75.4,291.53 75.6,292.32 75.8,292.31 76,293.04 76.26,294.61 76.53,294.02 76.79,294.12 77.05,295.19 77.32,295.27 77.58,296.87 77.85,295.72 78.11,297.88 78.37,296.46 78.64,298.56 78.9,298.54 79.24,298.04 79.59,299 79.93,299.04 80.28,299.4 80.62,299.71 80.97,300.46 81.31,302.14 81.66,302.57 82,302.85 82.42,301.55 82.84,302.28 83.26,303.84 83.68,302.51 84.1,304.2 84.52,303.69 84.94,305.41 85.36,303.83 85.78,305.76 86.2,305.18 86.64,305.08 87.07,305.1 87.51,307.06 87.95,306.75 88.38,306.37 88.82,307.17 89.25,308.42 89.69,307.34 90.13,308.34 90.56,307.78 91,308.16 91.49,309.57 91.98,309.68 92.47,308.88 92.96,308.87 93.45,309.11 93.95,310.38 94.44,310.38 94.93,310.17 95.42,310.26 95.91,311.3 96.4,311.72 96.91,312.02 97.42,311.67 97.92,311 98.43,310.83 98.94,312.27 99.45,311.72 99.95,312.44 100.46,311.21 100.97,312.82 101.48,311.97 101.98,313.08 102.49,313.23 103,312.59 103.5,311.7 104,313.55 104.5,312.75 105,313.6 105.5,312.45 106,312.36 106.5,313.71 107,312.85 107.5,312.51 108,312.99 108.5,313.5 109,312.38 109.5,313.48 110,313.39 110.5,313.61 111,312.89 111.5,314.16 112,314.44 112.5,314.61 113,313.6 113.5,314.46 114,313.88 114.5,314.69 115,313.39 115.5,315.09 116,315.33 116.5,314.49 117,314.6 117.5,314.71 118,314.8 118.5,313.84 119,315.81 119.5,314.4 120,314.4 120.5,314.32 121,314.69 121.5,315.9 122,314.4 122.5,314.61 123,315.89 123.5,314.96 124,314.68 124.5,315.92 125,315.95 125.5,315.89 126,316.3 126.5,315.15 127,316.73 127.5,316.47 128,315.17 128.5,315.37 129,316.16 129.5,316.22 130,315.83 130.5,315.56 131,316.17 131.5,315.68 132,316.64 132.5,317.22 133,315.84 133.5,316.74 134,317.13 134.5,316.02 135,317.39 135.5,317.66 136,316.6 136.5,316.71 137,317.6 137.5,317.02 138,316.8 138.5,317.94 139,317.66 139.5,316.83 140,316.68 140.5,316.91 141,317.14 141.5,318.27 142,317.96 142.5,318.21 143,318.05 143.5,318.15 144,316.6 144.5,317.56 145,318.48 145.5,318.47 146,317.14 146.5,317.52 147,317.98 147.5,317.48 148,317.85 148.5,316.96 149,317.73 149.5,317.91 150,316.97 150.5,317.25 151,318.95 151.5,318.6 152,318.95 152.5,318.38 153,318.77 153.5,318.96 154,319 154.5,317.33 155,318.58" fill="none" stroke="#333" stroke-width="0.9" stroke-opacity="1" stroke-linejoin="round"/>
<polyline points="52.3,210.3 52.3,224.6" fill="none" stroke="#5f50b8" stroke-width="1" stroke-opacity="1" stroke-linejoin="round"/>
<polyline points="50.2,224.6 50.68,224.58 51.17,224.57 51.65,224.55 52.13,224.53 52.62,224.52 53.1,224.5 53.58,224.48 54.07,224.47 54.55,224.45 55.03,224.43 55.52,224.42 56,224.4 56.41,224.15 56.83,223.9 57.24,223.65 57.65,223.4 58.06,223.15 58.47,222.9 58.89,222.65 59.3,222.4 59.61,222.77 59.93,223.14 60.24,223.51 60.56,223.89 60.87,224.26 61.19,224.63 61.5,225 61.58,225.44 61.67,225.89 61.75,226.33 61.83,226.78 61.92,227.22 62,227.67 62.08,228.11 62.17,228.56 62.25,229 62.33,229.44 62.42,229.89 62.5,230.33 62.58,230.78 62.67,231.22 62.75,231.67 62.83,232.11 62.92,232.56 63,233 63.1,233.45 63.2,233.91 63.3,234.36 63.4,234.82 63.5,235.27 63.6,235.73 63.7,236.18 63.8,236.64 63.9,237.09 64,237.55 64.1,238 64.2,238.45 64.3,238.91 64.4,239.36 64.5,239.82 64.6,240.27 64.7,240.73 64.8,241.18 64.9,241.64 65,242.09 65.1,242.55 65.2,243 65.3,243.44 65.39,243.89 65.49,244.33 65.58,244.77 65.68,245.22 65.77,245.66 65.87,246.1 65.97,246.55 66.06,248.26 66.16,248.79 66.25,247.75 66.35,249.8 66.44,249.85 66.54,251.37 66.63,247.71 66.73,252.02 66.83,247.96 66.92,252.36 67.02,251.87 67.11,251.86 67.21,254.72 67.3,253.13 67.4,252.77 67.5,255.11 67.6,256.02 67.7,255.08 67.8,254.33 67.9,255.15 68,255.62 68.1,257.43 68.2,255.64 68.3,256.58 68.4,257.88 68.5,257.43 68.6,257.54 68.7,260.4 68.8,261.17 68.9,259.78 69,259.94 69.1,259.02 69.2,260.09 69.3,259.7 69.4,262.37 69.5,262.85 69.6,260.72 69.7,265.48 69.86,262.81 70.01,265.93 70.17,266.33 70.33,267.38 70.49,263.88 70.64,265.46 70.8,268.4 70.96,264.15 71.11,264.76 71.27,267.88 71.43,267.95 71.59,270.57 71.74,270.23 71.9,269.43 72.06,272.25 72.21,270.17 72.37,270.59 72.53,271.89 72.69,270.78 72.84,271.04 73,272.69 73.22,271.82 73.45,275.31 73.67,274.29 73.9,273.89 74.12,272.06 74.35,273.89 74.58,274.41 74.8,275.64 75.03,276.1 75.25,278.08 75.47,278.91 75.7,276.81 75.92,276.96 76.15,278.31 76.38,280.63 76.6,277.63 76.83,278.99 77.05,280.86 77.28,277.9 77.5,279.05 77.83,282.81 78.15,282.35 78.47,281.04 78.8,279.27 79.12,283.68 79.45,282.94 79.78,283.94 80.1,285.15 80.42,284.94 80.75,282.84 81.08,281.79 81.4,282.81 81.72,284.29 82.05,284.58 82.38,283.25 82.7,283.55 83.03,286.2 83.35,286.39 83.67,285.41 84,289.07 84.39,287.46 84.77,284.63 85.16,286.8 85.55,289.01 85.93,286.76 86.32,289.01 86.71,285.69 87.09,287.51 87.48,290.56 87.87,289.48 88.25,290.16 88.64,287.96 89.03,289.78 89.41,290.32 89.8,289.08 90.2,291.27 90.6,290.88 91,293.51 91.4,291.52 91.8,290.88 92.2,289.58 92.6,289.97 93,293.31 93.4,290.12 93.8,290.3 94.2,290.87 94.6,292.91 95,294.68 95.46,293.73 95.92,294.87 96.38,291.14 96.85,291.02 97.31,295.1 97.77,292.91 98.23,295.09 98.69,293.35 99.15,292.53 99.62,293.17 100.08,292.44 100.54,296.76 101,295.23 101.45,294.1 101.9,294.72 102.34,294.47 102.79,292.84 103.24,297.27 103.69,295.76 104.14,297.81 104.58,295.19 105.03,296.22 105.48,294.38 105.93,293.4 106.38,298.1 106.82,297.79 107.27,295.07 107.72,298.19 108.17,297.85 108.62,295.28 109.06,296.92 109.51,298.86 109.96,296.54 110.41,298.99 110.86,295.4 111.3,296.25 111.75,298.05 112.2,295.55 112.66,296.04 113.11,299.02 113.57,297.03 114.03,298.67 114.49,295.84 114.94,295.52 115.4,296.51 115.86,295.66 116.31,299.77 116.77,296.27 117.23,297.71 117.69,295.43 118.14,297.64 118.6,296.91 119.06,297.03 119.51,295.31 119.97,295.65 120.43,299.34 120.89,296.91 121.34,296.39 121.8,296.14 122.26,296.66 122.71,296.45 123.17,295.44 123.63,298.75 124.09,297.1 124.54,296.17 125,299.07 125.45,295.88 125.91,296.79 126.36,299.72 126.82,296.04 127.27,297.67 127.73,299.71 128.18,299.54 128.64,296.18 129.09,297.18 129.55,299.1 130,297.29 130.45,300.31 130.91,296.4 131.36,300.26 131.82,297.93 132.27,296.48 132.73,297.65 133.18,295.97 133.64,298.96 134.09,296.63 134.55,299.95 135,298.32 135.45,297.17 135.91,296.54 136.36,298.41 136.82,296.35 137.27,299.77 137.73,295.87 138.18,297.89 138.64,298.04 139.09,296.62 139.55,299.22 140,297.2 140.45,298.62 140.91,298.15 141.36,296.81 141.82,297.22 142.27,295.63 142.73,296.1 143.18,299.6 143.64,296.85 144.09,298.62 144.55,295.74 145,298.09 145.45,297.04 145.91,297.76 146.36,296.7 146.82,295.5 147.27,296.77 147.73,296.33 148.18,295.8 148.64,298.87 149.09,296.61 149.55,297.23 150,299.86 150.45,299.16 150.91,299.72 151.36,299.6 151.82,295.81 152.27,296.56 152.73,295.27 153.18,298.65 153.64,298.56 154.09,296.93 154.55,297.25 155,298.53" fill="none" stroke="#9a90d8" stroke-width="0.9" stroke-opacity="1" stroke-linejoin="round"/>
<polyline points="50.2,224.6 50.73,224.58 51.25,224.56 51.78,224.55 52.31,224.53 52.84,224.51 53.36,224.49 53.89,224.47 54.42,224.45 54.95,224.44 55.47,224.42 56,224.4 56.47,224.11 56.94,223.83 57.41,223.54 57.89,223.26 58.36,222.97 58.83,222.69 59.3,222.4 59.67,222.83 60.03,223.27 60.4,223.7 60.77,224.13 61.13,224.57 61.5,225 61.59,225.5 61.69,226 61.78,226.5 61.88,227 61.97,227.5 62.06,228 62.16,228.5 62.25,229 62.34,229.5 62.44,230 62.53,230.5 62.62,231 62.72,231.5 62.81,232 62.91,232.5 63,233 63.11,233.5 63.22,234 63.33,234.5 63.44,235 63.55,235.5 63.66,236 63.77,236.5 63.88,237 63.99,237.5 64.1,238 64.21,238.5 64.32,239 64.43,239.5 64.54,240 64.65,240.5 64.76,241 64.87,241.5 64.98,242 65.09,242.5 65.2,243 65.31,243.51 65.42,244.02 65.53,244.53 65.64,245.04 65.75,245.55 65.86,246.06 65.97,246.57 66.08,248.58 66.19,248.03 66.3,248.24 66.41,247.81 66.52,247.71 66.63,249.18 66.74,249.86 66.85,249.69 66.96,250.55 67.07,250.51 67.18,252.84 67.29,253.24 67.4,252.36 67.52,252.88 67.63,254.26 67.75,254.54 67.86,256.61 67.98,255.25 68.09,255.59 68.2,257.97 68.32,256.09 68.44,257.95 68.55,257.72 68.67,259.76 68.78,259.41 68.9,260.6 69.01,259.21 69.12,261.31 69.24,261.6 69.36,261.66 69.47,263.14 69.59,263.85 69.7,262.07 69.88,263.12 70.07,263.84 70.25,263.84 70.43,263.87 70.62,265.07 70.8,265.3 70.98,267.41 71.17,267.09 71.35,266.51 71.53,267.68 71.72,268.64 71.9,268.79 72.08,268.67 72.27,268.85 72.45,269.15 72.63,272.79 72.82,272.51 73,270.87 73.25,273.33 73.5,274.6 73.75,273.7 74,272.68 74.25,274.33 74.5,274.59 74.75,274.24 75,275.8 75.25,274.53 75.5,277.88 75.75,277.43 76,277.81 76.25,279.23 76.5,278.75 76.75,277.9 77,278.32 77.25,278.41 77.5,278.49 77.86,281.24 78.22,281.81 78.58,280.43 78.94,280.44 79.31,282.25 79.67,283.27 80.03,283.89 80.39,281.83 80.75,284.16 81.11,284.67 81.47,284.75 81.83,283.78 82.19,283.68 82.56,286.1 82.92,284.84 83.28,285.36 83.64,286.3 84,286.08 84.45,287.85 84.89,286.25 85.34,285.91 85.78,287.88 86.23,288.37 86.68,289.28 87.12,289.2 87.57,290.14 88.02,290.55 88.46,289.41 88.91,289.71 89.35,288.91 89.8,289.66 90.27,290.81 90.75,289.45 91.22,291.64 91.69,290.21 92.16,291.35 92.64,293.28 93.11,290.71 93.58,290.79 94.05,292.32 94.53,291.77 95,293.71 95.5,291.56 96,294.39 96.5,294.59 97,294.52 97.5,293.51 98,293.21 98.5,294.57 99,294.25 99.5,294.1 100,293.98 100.5,294.45 101,295.33 101.51,295.94 102.02,296.29 102.53,294.03 103.04,294.55 103.55,295.12 104.05,295.6 104.56,295.01 105.07,294.63 105.58,294.37 106.09,295.24 106.6,295.77 107.11,297.51 107.62,297.41 108.13,297.37 108.64,297.82 109.15,297.88 109.65,296.88 110.16,297.6 110.67,295.29 111.18,297.36 111.69,297.25 112.2,296.35 112.71,297.27 113.22,298.53 113.74,297.06 114.25,297.63 114.76,296.56 115.27,296.74 115.78,298.51 116.3,295.81 116.81,296.36 117.32,297.97 117.83,297.27 118.34,296.15 118.86,298.03 119.37,297.15 119.88,297.86 120.39,297.37 120.9,297.78 121.42,297.93 121.93,297.43 122.44,296.57 122.95,296.82 123.46,299.13 123.98,298.07 124.49,296.72 125,299.16 125.5,297.2 126,296.69 126.5,298.08 127,297.18 127.5,297.93 128,298.13 128.5,297.08 129,298.18 129.5,296.7 130,297.98 130.5,298.21 131,296.58 131.5,297.62 132,296.54 132.5,297.71 133,299.06 133.5,298.05 134,298.57 134.5,298.7 135,296.63 135.5,299.43 136,298.56 136.5,296.57 137,298.9 137.5,297.49 138,296.77 138.5,299.29 139,298.02 139.5,298.69 140,296.64 140.5,298.68 141,296.38 141.5,296.95 142,297.38 142.5,296.23 143,298.08 143.5,296.86 144,297.13 144.5,298.43 145,297.53 145.5,299.01 146,298.15 146.5,298.95 147,297.95 147.5,299.09 148,298.93 148.5,296.68 149,298.53 149.5,297.23 150,298.58 150.5,298.31 151,298.77 151.5,296.52 152,297.31 152.5,298.48 153,299.15 153.5,298.42 154,296.25 154.5,298.04 155,296.42" fill="none" stroke="#6455bd" stroke-width="0.9" stroke-opacity="1" stroke-linejoin="round"/>
<text x="66.5" y="223.6" font-size="10.6" text-anchor="start" fill="#000" font-weight="bold" stroke="#000" stroke-width="0.25" >10 µg/mL collagen</text>
<text x="119.3" y="292" font-size="10.7" text-anchor="start" fill="#4b2e8c" font-weight="bold" stroke="#4b2e8c" stroke-width="0.25" >daughter</text>
<text x="125.7" y="327.7" font-size="11" text-anchor="start" fill="#000" font-weight="bold" stroke="#000" stroke-width="0.25" >wife</text>
<text x="48.8" y="226.87" font-size="6.3" text-anchor="end" fill="#000" font-weight="bold" stroke="#000" stroke-width="0.25" >0</text>
<text x="48.8" y="238.91" font-size="6.3" text-anchor="end" fill="#000" font-weight="bold" stroke="#000" stroke-width="0.25" >10</text>
<text x="48.8" y="250.95" font-size="6.3" text-anchor="end" fill="#000" font-weight="bold" stroke="#000" stroke-width="0.25" >20</text>
<text x="48.8" y="262.99" font-size="6.3" text-anchor="end" fill="#000" font-weight="bold" stroke="#000" stroke-width="0.25" >30</text>
<text x="48.8" y="275.03" font-size="6.3" text-anchor="end" fill="#000" font-weight="bold" stroke="#000" stroke-width="0.25" >40</text>
<text x="48.8" y="287.07" font-size="6.3" text-anchor="end" fill="#000" font-weight="bold" stroke="#000" stroke-width="0.25" >50</text>
<text x="48.8" y="299.11" font-size="6.3" text-anchor="end" fill="#000" font-weight="bold" stroke="#000" stroke-width="0.25" >60</text>
<text x="48.8" y="311.15" font-size="6.3" text-anchor="end" fill="#000" font-weight="bold" stroke="#000" stroke-width="0.25" >70</text>
<text x="48.8" y="323.19" font-size="6.3" text-anchor="end" fill="#000" font-weight="bold" stroke="#000" stroke-width="0.25" >80</text>
<text x="48.8" y="335.23" font-size="6.3" text-anchor="end" fill="#000" font-weight="bold" stroke="#000" stroke-width="0.25" >90</text>
<text x="48.8" y="347.27" font-size="6.3" text-anchor="end" fill="#000" font-weight="bold" stroke="#000" stroke-width="0.25" >100</text>
<text x="167.6" y="226.87" font-size="6.3" text-anchor="start" fill="#000" font-weight="bold" stroke="#000" stroke-width="0.25" >0</text>
<text x="167.6" y="238.91" font-size="6.3" text-anchor="start" fill="#000" font-weight="bold" stroke="#000" stroke-width="0.25" >4</text>
<text x="167.6" y="250.95" font-size="6.3" text-anchor="start" fill="#000" font-weight="bold" stroke="#000" stroke-width="0.25" >8</text>
<text x="167.6" y="262.99" font-size="6.3" text-anchor="start" fill="#000" font-weight="bold" stroke="#000" stroke-width="0.25" >12</text>
<text x="167.6" y="275.03" font-size="6.3" text-anchor="start" fill="#000" font-weight="bold" stroke="#000" stroke-width="0.25" >16</text>
<text x="167.6" y="287.07" font-size="6.3" text-anchor="start" fill="#000" font-weight="bold" stroke="#000" stroke-width="0.25" >20</text>
<text x="167.6" y="299.11" font-size="6.3" text-anchor="start" fill="#000" font-weight="bold" stroke="#000" stroke-width="0.25" >24</text>
<text x="167.6" y="311.15" font-size="6.3" text-anchor="start" fill="#000" font-weight="bold" stroke="#000" stroke-width="0.25" >28</text>
<text x="167.6" y="323.19" font-size="6.3" text-anchor="start" fill="#000" font-weight="bold" stroke="#000" stroke-width="0.25" >32</text>
<text x="167.6" y="335.23" font-size="6.3" text-anchor="start" fill="#000" font-weight="bold" stroke="#000" stroke-width="0.25" >36</text>
<text x="167.6" y="347.27" font-size="6.3" text-anchor="start" fill="#000" font-weight="bold" stroke="#000" stroke-width="0.25" >40</text>
<text x="64.87" y="364.43" font-size="4.8" text-anchor="middle" fill="#000" font-weight="bold" stroke="#000" stroke-width="0.25" >1:00</text>
<text x="79.34" y="364.43" font-size="4.8" text-anchor="middle" fill="#000" font-weight="bold" stroke="#000" stroke-width="0.25" >2:00</text>
<text x="93.81" y="364.43" font-size="4.8" text-anchor="middle" fill="#000" font-weight="bold" stroke="#000" stroke-width="0.25" >3:00</text>
<text x="108.28" y="364.43" font-size="4.8" text-anchor="middle" fill="#000" font-weight="bold" stroke="#000" stroke-width="0.25" >4:00</text>
<text x="122.75" y="364.43" font-size="4.8" text-anchor="middle" fill="#000" font-weight="bold" stroke="#000" stroke-width="0.25" >5:00</text>
<text x="137.22" y="364.43" font-size="4.8" text-anchor="middle" fill="#000" font-weight="bold" stroke="#000" stroke-width="0.25" >6:00</text>
<text x="151.69" y="364.43" font-size="4.8" text-anchor="middle" fill="#000" font-weight="bold" stroke="#000" stroke-width="0.25" >7:00</text>
<text x="88.1" y="373.82" font-size="6.73" text-anchor="start" fill="#000" font-weight="bold" stroke="#000" stroke-width="0.25" >Time (min:s)</text>
<text x="0" y="0" font-size="7.1" text-anchor="middle" dominant-baseline="central" fill="#000" font-weight="bold" stroke="#000" stroke-width="0.25" transform="translate(37.4,281.5) rotate(-90)">light transmission [%]</text>
<text x="0" y="0" font-size="6.6" text-anchor="middle" dominant-baseline="central" fill="#000" font-weight="bold" stroke="#000" stroke-width="0.25" transform="translate(178.4,282.8) rotate(90)">ohms</text>
<rect x="192.7" y="206.4" width="158.9" height="170.4" fill="#bdb9b5"/>
<rect x="214" y="210" width="117" height="150" fill="#fff"/>
<line x1="228.5" y1="209.8" x2="228.5" y2="360" stroke="#aea9a4" stroke-width="1.0"/>
<line x1="243.5" y1="209.8" x2="243.5" y2="360" stroke="#aea9a4" stroke-width="1.0"/>
<line x1="257.5" y1="209.8" x2="257.5" y2="360" stroke="#aea9a4" stroke-width="1.0"/>
<line x1="272.5" y1="209.8" x2="272.5" y2="360" stroke="#aea9a4" stroke-width="1.0"/>
<line x1="287.5" y1="209.8" x2="287.5" y2="360" stroke="#aea9a4" stroke-width="1.0"/>
<line x1="302.5" y1="209.8" x2="302.5" y2="360" stroke="#aea9a4" stroke-width="1.0"/>
<line x1="316.5" y1="209.8" x2="316.5" y2="360" stroke="#aea9a4" stroke-width="1.0"/>
<line x1="213.7" y1="224.5" x2="331.4" y2="224.5" stroke="#aea9a4" stroke-width="1.0"/>
<line x1="213.7" y1="236.5" x2="331.4" y2="236.5" stroke="#aea9a4" stroke-width="1.0"/>
<line x1="213.7" y1="248.5" x2="331.4" y2="248.5" stroke="#aea9a4" stroke-width="1.0"/>
<line x1="213.7" y1="260.5" x2="331.4" y2="260.5" stroke="#aea9a4" stroke-width="1.0"/>
<line x1="213.7" y1="272.5" x2="331.4" y2="272.5" stroke="#aea9a4" stroke-width="1.0"/>
<line x1="213.7" y1="285.5" x2="331.4" y2="285.5" stroke="#aea9a4" stroke-width="1.0"/>
<line x1="213.7" y1="297.5" x2="331.4" y2="297.5" stroke="#aea9a4" stroke-width="1.0"/>
<line x1="213.7" y1="309.5" x2="331.4" y2="309.5" stroke="#aea9a4" stroke-width="1.0"/>
<line x1="213.7" y1="321.5" x2="331.4" y2="321.5" stroke="#aea9a4" stroke-width="1.0"/>
<line x1="213.7" y1="333.5" x2="331.4" y2="333.5" stroke="#aea9a4" stroke-width="1.0"/>
<line x1="213.7" y1="345.5" x2="331.4" y2="345.5" stroke="#aea9a4" stroke-width="1.0"/>
<rect x="214.5" y="210.5" width="116" height="149" fill="none" stroke="#7a7672" stroke-width="1"/>
<rect x="223.5" y="213" width="107.9" height="10.6" fill="#fff"/>
<rect x="282" y="270" width="48" height="11.5" fill="#fff"/>
<rect x="301" y="310.4" width="29.4" height="11.1" fill="#fff"/>
<polyline points="213.7,346 220.6,346 222.4,343.9 250,344.2 300,345 331,345.5" fill="none" stroke="#7d70cc" stroke-width="1" stroke-opacity="1" stroke-linejoin="round"/>
<polyline points="215.1,209.8 215.1,346" fill="none" stroke="#a49cdc" stroke-width="0.8" stroke-opacity="1" stroke-linejoin="round"/>
<polyline points="220.5,209.8 220.5,227.4" fill="none" stroke="#a49cdc" stroke-width="0.8" stroke-opacity="1" stroke-linejoin="round"/>
<polyline points="220,225.9 225.3,222.3 227,230 229.7,242.4 232.5,253 235,262 238.4,273.2" fill="none" stroke="#666" stroke-width="0.9" stroke-opacity="1" stroke-linejoin="round" stroke-dasharray="1.6,1"/>
<polyline points="238.4,273.2 238.66,273.63 238.91,274.07 239.16,274.5 239.42,274.94 239.68,275.38 239.93,275.81 240.19,276.1 240.44,277.63 240.69,277.34 240.95,276.47 241.21,276.64 241.46,277.33 241.72,279.7 241.97,278.41 242.22,279.88 242.48,279.57 242.74,281.12 242.99,280.7 243.25,280.47 243.5,282.95 243.73,282.47 243.95,283.35 244.18,284.14 244.41,284.99 244.63,282.83 244.86,284.21 245.08,284.13 245.31,285.57 245.54,287.07 245.76,287.32 245.99,285.64 246.22,286.51 246.44,288.74 246.67,288.81 246.89,288.47 247.12,289.16 247.35,288.73 247.57,291.11 247.8,290.3 248.23,291.92 248.67,291.47 249.1,290.25 249.53,291.24 249.97,291.2 250.4,293.38 250.83,292.8 251.27,291.56 251.7,292.19 252.13,293 252.57,293.58 253,294.17 253.43,293.92 253.87,294.1 254.3,293.4 254.73,295.29 255.17,294.88 255.6,294.28 256.03,295.79 256.47,297.55 256.9,295.19 257.33,295.75 257.77,297.5 258.2,296.66 258.69,296.88 259.17,297.73 259.66,297.28 260.14,298.35 260.63,298.45 261.11,299.87 261.6,300.18 262.09,297.71 262.57,299.4 263.06,300.2 263.54,300.7 264.03,300.64 264.51,300.46 265,300.68 265.5,300.08 266,300.01 266.5,301.61 267,301.98 267.5,302.33 268,301.77 268.5,300.87 269,302.32 269.5,302.41 270,301.92 270.5,302.44 271,301.8 271.5,302.52 272,302.28 272.5,301.47 273,302.4 273.5,302.52 274,304.55 274.5,303.29 275,303.13 275.51,302.88 276.03,302.95 276.55,303.36 277.06,302.86 277.57,302.6 278.09,305.11 278.61,304.03 279.12,304.11 279.63,304.55 280.15,303.9 280.67,303.62 281.18,303.43 281.69,304.18 282.21,304.29 282.73,305.56 283.24,305.16 283.75,306.34 284.27,304.76 284.79,306.48 285.3,305.63 285.81,304.27 286.31,304.6 286.81,305.78 287.32,306.96 287.82,305.25 288.33,306.47 288.84,305.55 289.34,306.83 289.85,304.64 290.35,305.86 290.86,307.07 291.36,305.37 291.87,305.37 292.37,304.76 292.88,305.21 293.38,305.55 293.88,306.82 294.39,305.51 294.89,306.07 295.4,305.56 295.91,306.74 296.41,307.52 296.92,306.96 297.42,305.75 297.93,307.3 298.43,308 298.94,307.03 299.44,305.62 299.94,307.72 300.45,307.95 300.95,306.51 301.46,305.98 301.96,306.18 302.47,307.2 302.98,308.2 303.48,307.59 303.99,308.43 304.49,306.49 305,306.86 305.5,308.1 306,307.8 306.5,307.1 307,307.85 307.5,306.87 308,306.07 308.5,307.05 309,306 309.5,307.61 310,306.77 310.5,307.2 311,307.47 311.5,306.5 312,307.06 312.5,305.78 313,308.32 313.5,307.29 314,308.45 314.5,305.83 315,307.37 315.5,307.66 316,306.54 316.5,305.86 317,306.01 317.5,305.96 318,307.69 318.5,305.77 319,307.78 319.5,306.67 320,306.98 320.5,307.1 321,306.98 321.5,307.25 322,307.08 322.5,306.3 323,307.43 323.5,306.06 324,307.31 324.5,307.44 325,307.46 325.5,306.13 326,307.41 326.5,307.97 327,306.48 327.5,305.97 328,306.64 328.5,307.79 329,305.51 329.5,305.14 330,306.43" fill="none" stroke="#333" stroke-width="0.9" stroke-opacity="1" stroke-linejoin="round"/>
<polyline points="213.6,228.1 214.01,227.74 214.42,227.39 214.83,227.03 215.24,226.68 215.66,226.32 216.07,225.97 216.48,225.61 216.89,225.26 217.3,224.9 217.78,224.74 218.27,224.58 218.75,224.43 219.23,224.27 219.72,224.11 220.2,223.95 220.68,223.79 221.17,223.63 221.65,223.47 222.13,223.32 222.62,223.16 223.1,223 223.21,223.5 223.32,224 223.42,224.5 223.53,225 223.64,225.5 223.75,226 223.85,226.5 223.96,227 224.07,227.5 224.18,228 224.28,228.5 224.39,229 224.5,229.5 224.6,230 224.71,230.51 224.81,231.01 224.91,231.51 225.02,232.02 225.12,232.52 225.22,233.02 225.33,233.53 225.43,234.03 225.53,234.53 225.64,235.04 225.74,235.54 225.84,236.04 225.95,236.55 226.05,237.52 226.16,237.81 226.26,237.7 226.36,239.45 226.47,238.56 226.57,239.69 226.67,239.45 226.78,241.23 226.88,241.74 226.98,241.16 227.09,242.54 227.19,243.17 227.29,242.7 227.4,243.29 227.5,244.07 227.64,245.29 227.79,244.46 227.93,245.88 228.07,246.21 228.22,246.43 228.36,247.14 228.5,248.17 228.65,247.44 228.79,249.14 228.93,248.68 229.08,249.92 229.22,250.55 229.36,249.81 229.51,251.52 229.65,252.24 229.79,251.47 229.94,251.46 230.08,252.1 230.22,254.14 230.37,252.88 230.51,254.99 230.65,254.1 230.8,255.64 230.94,254.98 231.08,255.59 231.23,257 231.37,256.41 231.51,257.34 231.66,258.87 231.8,258.99 232.03,259.74 232.26,260.38 232.49,259.13 232.73,259.95 232.96,261.41 233.19,261.68 233.42,260.96 233.65,262.26 233.88,262.22 234.11,263.04 234.34,262.91 234.57,263.21 234.81,265.41 235.04,264.66 235.27,266.13 235.5,265.22 235.72,266.33 235.95,266.16 236.18,267.14 236.4,267.15 236.62,268.51 236.85,268 237.07,269.52 237.3,269.55 237.53,269.31 237.75,270.2 237.97,270.91 238.2,272.13 238.42,271.56 238.65,271.77 238.88,273.59 239.1,273.89 239.46,273.98 239.82,273.52 240.19,273.71 240.55,274.23 240.91,274.24 241.28,274.55 241.64,275.75 242,275.93 242.36,276.56 242.72,276.58 243.09,276.31 243.45,277.89 243.81,278.19 244.18,278.35 244.54,278.73 244.9,279.34 245.33,280.17 245.75,280.27 246.18,280.29 246.6,280.02 247.03,280.17 247.45,280.65 247.88,281.95 248.3,281.2 248.72,281.49 249.15,281.84 249.57,281.66 250,283.5 250.44,281.97 250.87,283.32 251.31,284.16 251.75,283.21 252.18,284.12 252.62,283.96 253.05,283.98 253.49,284.17 253.93,284.28 254.36,285.85 254.8,286.01 255.29,286.36 255.77,284.94 256.26,286.23 256.75,285.69 257.23,286.39 257.72,286.34 258.21,286.05 258.7,287.36 259.18,285.74 259.67,287.2 260.16,287.52 260.64,287.03 261.13,287.31 261.62,288.16 262.1,286.91 262.59,287.75 263.08,288.08 263.57,287.55 264.05,288.28 264.54,287.83 265.03,288.2 265.51,288.48 266,288.72 266.5,288.13 267,288.72 267.5,288.62 268,288.09 268.5,288.83 269,288.26 269.5,289.46 270,288.72 270.5,289.22 271,288.9 271.5,288.87 272,288.46 272.5,288.36 273,289.82 273.5,289.15 274,289.19 274.5,289.24 275,289.8 275.5,288.81 276,288.74 276.5,289.95 277,289.35 277.5,289.72 278,290.1 278.5,290.27 279,290.27 279.5,288.83 280,289.49 280.5,290.26 281,290.19 281.5,288.89 282,288.91 282.5,289.04 283,288.73 283.5,289.14 284,289.91 284.5,289.36 285,289.19 285.5,288.49 286,289 286.5,290.04 287,289.46 287.5,288.97 288,288.98 288.5,289.51 289,289.4 289.5,288.26 290,289.17 290.5,288.57 291,288.8 291.5,288.25 292,288.45 292.5,288.35 293,288.38 293.5,287.68 294,287.97 294.5,288.59 295,287.63 295.5,287.8 296,288.73 296.5,287.89 297,287.94 297.5,287.75 298,288.77 298.5,287.39 299,288.33 299.5,288.69 300,287.46 300.5,287.79 301,288.39 301.5,288.01 302,287.5 302.5,286.85 303,287.5 303.5,287.29 304,287.85 304.5,287.03 305,287.17 305.5,287.53 306,287.76 306.5,286.87 307,286.86 307.5,287.14 308,287.7 308.5,286.31 309,287.65 309.5,287.11 310,286.44 310.5,286.9 311,286.23 311.5,285.69 312,286.86 312.5,286.12 313,286.31 313.5,286.19 314,286.86 314.5,286.53 315,285.15 315.51,286.08 316.01,285.75 316.52,285.66 317.03,286.25 317.53,285.4 318.04,285.41 318.55,286.07 319.05,285.17 319.56,285.17 320.06,285.12 320.57,285.59 321.08,285.22 321.58,285.26 322.09,284.56 322.6,283.82 323.1,284.88 323.61,284.56 324.12,284.86 324.62,284.77 325.13,283.51 325.64,283.6 326.14,283.25 326.65,284.49 327.15,283.12 327.66,283 328.17,284.11 328.67,283.68 329.18,282.67 329.69,283.71 330.19,283.67 330.7,283.17" fill="none" stroke="#5f50b8" stroke-width="1.0" stroke-opacity="1" stroke-linejoin="round"/>
<text x="224.8" y="221.6" font-size="10.4" text-anchor="start" fill="#000" font-weight="bold" stroke="#000" stroke-width="0.25" >0.5 mg/ml arach. acid</text>
<text x="283.5" y="278.6" font-size="10.7" text-anchor="start" fill="#4b2e8c" font-weight="bold" stroke="#4b2e8c" stroke-width="0.25" >daughter</text>
<text x="302.3" y="319.4" font-size="11" text-anchor="start" fill="#000" font-weight="bold" stroke="#000" stroke-width="0.25" >wife</text>
<text x="212.2" y="226.57" font-size="6.3" text-anchor="end" fill="#000" font-weight="bold" stroke="#000" stroke-width="0.25" >0</text>
<text x="212.2" y="238.72" font-size="6.3" text-anchor="end" fill="#000" font-weight="bold" stroke="#000" stroke-width="0.25" >10</text>
<text x="212.2" y="250.87" font-size="6.3" text-anchor="end" fill="#000" font-weight="bold" stroke="#000" stroke-width="0.25" >20</text>
<text x="212.2" y="263.02" font-size="6.3" text-anchor="end" fill="#000" font-weight="bold" stroke="#000" stroke-width="0.25" >30</text>
<text x="212.2" y="275.17" font-size="6.3" text-anchor="end" fill="#000" font-weight="bold" stroke="#000" stroke-width="0.25" >40</text>
<text x="212.2" y="287.32" font-size="6.3" text-anchor="end" fill="#000" font-weight="bold" stroke="#000" stroke-width="0.25" >50</text>
<text x="212.2" y="299.47" font-size="6.3" text-anchor="end" fill="#000" font-weight="bold" stroke="#000" stroke-width="0.25" >60</text>
<text x="212.2" y="311.62" font-size="6.3" text-anchor="end" fill="#000" font-weight="bold" stroke="#000" stroke-width="0.25" >70</text>
<text x="212.2" y="323.77" font-size="6.3" text-anchor="end" fill="#000" font-weight="bold" stroke="#000" stroke-width="0.25" >80</text>
<text x="212.2" y="335.92" font-size="6.3" text-anchor="end" fill="#000" font-weight="bold" stroke="#000" stroke-width="0.25" >90</text>
<text x="212.2" y="348.07" font-size="6.3" text-anchor="end" fill="#000" font-weight="bold" stroke="#000" stroke-width="0.25" >100</text>
<text x="332" y="226.57" font-size="6.3" text-anchor="start" fill="#000" font-weight="bold" stroke="#000" stroke-width="0.25" >0</text>
<text x="332" y="238.72" font-size="6.3" text-anchor="start" fill="#000" font-weight="bold" stroke="#000" stroke-width="0.25" >4</text>
<text x="332" y="250.87" font-size="6.3" text-anchor="start" fill="#000" font-weight="bold" stroke="#000" stroke-width="0.25" >8</text>
<text x="332" y="263.02" font-size="6.3" text-anchor="start" fill="#000" font-weight="bold" stroke="#000" stroke-width="0.25" >12</text>
<text x="332" y="275.17" font-size="6.3" text-anchor="start" fill="#000" font-weight="bold" stroke="#000" stroke-width="0.25" >16</text>
<text x="332" y="287.32" font-size="6.3" text-anchor="start" fill="#000" font-weight="bold" stroke="#000" stroke-width="0.25" >20</text>
<text x="332" y="299.47" font-size="6.3" text-anchor="start" fill="#000" font-weight="bold" stroke="#000" stroke-width="0.25" >24</text>
<text x="332" y="311.62" font-size="6.3" text-anchor="start" fill="#000" font-weight="bold" stroke="#000" stroke-width="0.25" >28</text>
<text x="332" y="323.77" font-size="6.3" text-anchor="start" fill="#000" font-weight="bold" stroke="#000" stroke-width="0.25" >32</text>
<text x="332" y="335.92" font-size="6.3" text-anchor="start" fill="#000" font-weight="bold" stroke="#000" stroke-width="0.25" >36</text>
<text x="332" y="348.07" font-size="6.3" text-anchor="start" fill="#000" font-weight="bold" stroke="#000" stroke-width="0.25" >40</text>
<text x="228.26" y="365.63" font-size="4.8" text-anchor="middle" fill="#000" font-weight="bold" stroke="#000" stroke-width="0.25" >1:00</text>
<text x="243.02" y="365.63" font-size="4.8" text-anchor="middle" fill="#000" font-weight="bold" stroke="#000" stroke-width="0.25" >2:00</text>
<text x="257.78" y="365.63" font-size="4.8" text-anchor="middle" fill="#000" font-weight="bold" stroke="#000" stroke-width="0.25" >3:00</text>
<text x="272.54" y="365.63" font-size="4.8" text-anchor="middle" fill="#000" font-weight="bold" stroke="#000" stroke-width="0.25" >4:00</text>
<text x="287.3" y="365.63" font-size="4.8" text-anchor="middle" fill="#000" font-weight="bold" stroke="#000" stroke-width="0.25" >5:00</text>
<text x="302.06" y="365.63" font-size="4.8" text-anchor="middle" fill="#000" font-weight="bold" stroke="#000" stroke-width="0.25" >6:00</text>
<text x="316.82" y="365.63" font-size="4.8" text-anchor="middle" fill="#000" font-weight="bold" stroke="#000" stroke-width="0.25" >7:00</text>
<text x="253.1" y="374.99" font-size="6.63" text-anchor="start" fill="#000" font-weight="bold" stroke="#000" stroke-width="0.25" >Time (min:s)</text>
<text x="0" y="0" font-size="7.05" text-anchor="middle" dominant-baseline="central" fill="#000" font-weight="bold" stroke="#000" stroke-width="0.25" transform="translate(200.7,284.1) rotate(-90)">light transmission [%]</text>
<text x="0" y="0" font-size="6.3" text-anchor="middle" dominant-baseline="central" fill="#000" font-weight="bold" stroke="#000" stroke-width="0.25" transform="translate(343,284.6) rotate(90)">ohms</text>
<text x="0" y="0" font-size="17.5" font-weight="bold" fill="#000" transform="translate(6.0,18.7) scale(1.08,1)">A</text>
<text x="0" y="0" font-size="17.5" font-weight="bold" fill="#000" transform="translate(5.6,201.9)">B</text>
<text x="0" y="0" font-size="17.5" font-weight="bold" fill="#000" transform="translate(6.2,397.1) scale(0.95,1)">C</text>
<line x1="61.9" y1="397.6" x2="61.9" y2="516.5" stroke="#000" stroke-width="1.3"/>
<line x1="61.25" y1="516.5" x2="239.2" y2="516.5" stroke="#000" stroke-width="1.3"/>
<line x1="59.1" y1="516.5" x2="61.9" y2="516.5" stroke="#000" stroke-width="1.2"/>
<text x="56.9" y="519.74" font-size="9" text-anchor="end" fill="#000" font-weight="bold" stroke="#000" stroke-width="0.25" >0.0</text>
<line x1="59.1" y1="486.93" x2="61.9" y2="486.93" stroke="#000" stroke-width="1.2"/>
<text x="56.9" y="490.17" font-size="9" text-anchor="end" fill="#000" font-weight="bold" stroke="#000" stroke-width="0.25" >0.5</text>
<line x1="59.1" y1="457.35" x2="61.9" y2="457.35" stroke="#000" stroke-width="1.2"/>
<text x="56.9" y="460.59" font-size="9" text-anchor="end" fill="#000" font-weight="bold" stroke="#000" stroke-width="0.25" >1.0</text>
<line x1="59.1" y1="427.77" x2="61.9" y2="427.77" stroke="#000" stroke-width="1.2"/>
<text x="56.9" y="431.01" font-size="9" text-anchor="end" fill="#000" font-weight="bold" stroke="#000" stroke-width="0.25" >1.5</text>
<line x1="59.1" y1="398.2" x2="61.9" y2="398.2" stroke="#000" stroke-width="1.2"/>
<text x="56.9" y="401.44" font-size="9" text-anchor="end" fill="#000" font-weight="bold" stroke="#000" stroke-width="0.25" >2.0</text>
<line x1="84.3" y1="516.5" x2="84.3" y2="519.1" stroke="#000" stroke-width="1.2"/>
<line x1="84.3" y1="417.13" x2="84.3" y2="439.01" stroke="#000" stroke-width="1.3"/>
<line x1="77" y1="417.13" x2="91.6" y2="417.13" stroke="#000" stroke-width="1.3"/>
<rect x="69.45" y="439.01" width="29.7" height="77.49" fill="#fff" stroke="#000" stroke-width="1.3"/>
<line x1="128.4" y1="516.5" x2="128.4" y2="519.1" stroke="#000" stroke-width="1.2"/>
<line x1="128.4" y1="505.44" x2="128.4" y2="506.44" stroke="#000" stroke-width="1.3"/>
<line x1="121.1" y1="505.44" x2="135.7" y2="505.44" stroke="#000" stroke-width="1.3"/>
<rect x="113.55" y="506.44" width="29.7" height="10.06" fill="#111" stroke="#000" stroke-width="1.3"/>
<line x1="172.5" y1="516.5" x2="172.5" y2="519.1" stroke="#000" stroke-width="1.2"/>
<line x1="172.5" y1="502.3" x2="172.5" y2="510.11" stroke="#000" stroke-width="1.3"/>
<line x1="165.2" y1="502.3" x2="179.8" y2="502.3" stroke="#000" stroke-width="1.3"/>
<rect x="157.65" y="510.11" width="29.7" height="6.39" fill="#b0281e" stroke="#000" stroke-width="1.3"/>
<line x1="216.5" y1="516.5" x2="216.5" y2="519.1" stroke="#000" stroke-width="1.2"/>
<rect x="201.65" y="449.36" width="29.7" height="67.14" fill="#d3cfcb" stroke="#000" stroke-width="1.3"/>
<text x="84.1" y="530.3" font-size="9.5" text-anchor="middle" fill="#000" font-weight="bold" stroke="#000" stroke-width="0.25" >controls</text>
<text x="128.3" y="530.3" font-size="9.5" text-anchor="middle" fill="#000" font-weight="bold" stroke="#000" stroke-width="0.25" >index</text>
<text x="128.3" y="541" font-size="9.5" text-anchor="middle" fill="#000" font-weight="bold" stroke="#000" stroke-width="0.25" >patient</text>
<text x="172.8" y="530.3" font-size="9.5" text-anchor="middle" fill="#000" font-weight="bold" stroke="#000" stroke-width="0.25" >daughter</text>
<text x="217.1" y="530.3" font-size="9.5" text-anchor="middle" fill="#000" font-weight="bold" stroke="#000" stroke-width="0.25" >wife</text>
<text x="0" y="0" font-size="9.6" text-anchor="middle" dominant-baseline="central" fill="#000" font-weight="bold" stroke="#000" stroke-width="0.25" transform="translate(37.4,457.3) rotate(-90)">ATP-secretion [nmol]</text>
</svg>
</body></html>
